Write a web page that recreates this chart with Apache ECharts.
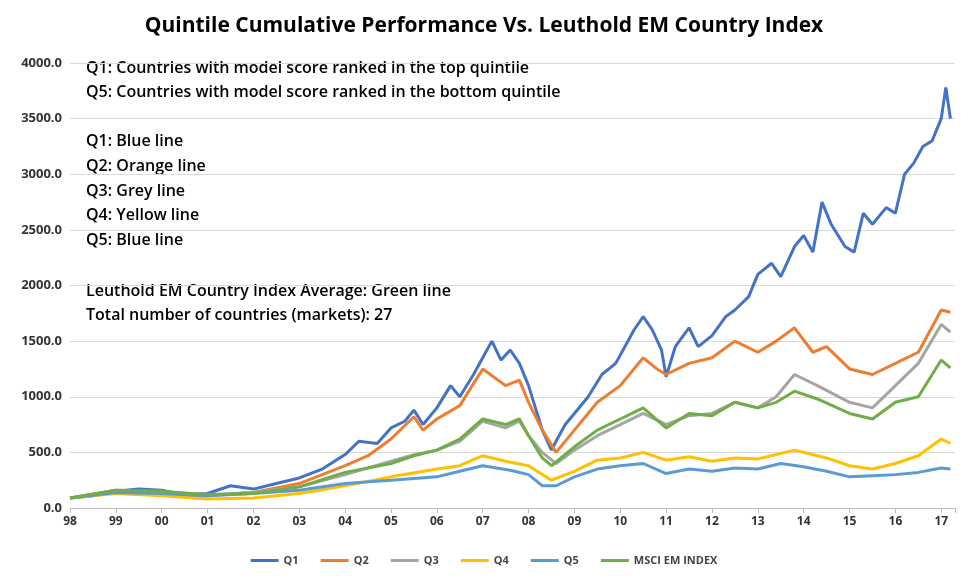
<!DOCTYPE html>
<html><head><meta charset="utf-8">
<script src="https://cdn.jsdelivr.net/npm/echarts@6/dist/echarts.min.js"></script>
<style>html,body{margin:0;padding:0;background:#fff}#c{width:968px;height:583px}</style>
</head><body><div id="c"></div>
<script>
const yearTicks = ['98','99','00','01','02','03','04','05','06','07','08','09','10','11','12','13','14','15','16','17'];
const q1 = [[1998,90],[1998.5,110],[1999,150],[1999.5,170],[2000,160],[2000.5,120],[2001,130],[2001.5,200],[2002,170],[2002.5,220],[2003,270],[2003.5,350],[2004,480],[2004.3,600],[2004.7,580],[2005,720],[2005.3,780],[2005.5,880],[2005.7,750],[2006,900],[2006.3,1100],[2006.5,1000],[2006.8,1200],[2007,1350],[2007.2,1500],[2007.4,1330],[2007.6,1420],[2007.8,1300],[2008,1100],[2008.3,700],[2008.5,520],[2008.6,600],[2008.8,750],[2009,850],[2009.3,1000],[2009.6,1200],[2009.9,1300],[2010.1,1450],[2010.3,1600],[2010.5,1720],[2010.7,1600],[2010.9,1420],[2011,1180],[2011.2,1450],[2011.5,1620],[2011.7,1450],[2012,1550],[2012.3,1720],[2012.5,1780],[2012.8,1900],[2013,2100],[2013.3,2200],[2013.5,2080],[2013.8,2350],[2014,2450],[2014.2,2300],[2014.4,2750],[2014.6,2550],[2014.9,2350],[2015.1,2300],[2015.3,2650],[2015.5,2550],[2015.8,2700],[2016,2650],[2016.2,3000],[2016.4,3100],[2016.6,3250],[2016.8,3300],[2017,3500],[2017.1,3780],[2017.2,3500]];
const q2 = [[1998,90],[1999,160],[2000,150],[2000.5,110],[2001,110],[2002,140],[2003,220],[2004,380],[2004.5,470],[2005,620],[2005.5,820],[2005.7,700],[2006,800],[2006.5,920],[2007,1250],[2007.5,1100],[2007.8,1150],[2008,950],[2008.3,700],[2008.6,500],[2009,700],[2009.5,950],[2010,1100],[2010.5,1350],[2010.8,1250],[2011,1200],[2011.5,1300],[2012,1350],[2012.5,1500],[2013,1400],[2013.4,1500],[2013.8,1620],[2014.2,1400],[2014.5,1450],[2015,1250],[2015.5,1200],[2016,1300],[2016.5,1400],[2017,1780],[2017.2,1760]];
const q3 = [[1998,90],[1999,150],[2000,140],[2001,120],[2002,140],[2003,190],[2004,300],[2005,420],[2005.5,480],[2006,520],[2006.5,600],[2007,780],[2007.5,720],[2007.8,780],[2008,650],[2008.3,500],[2008.6,400],[2009,520],[2009.5,650],[2010,750],[2010.5,850],[2011,750],[2011.5,830],[2012,850],[2012.5,950],[2013,900],[2013.4,1000],[2013.8,1200],[2014.3,1100],[2015,950],[2015.5,900],[2016,1100],[2016.5,1300],[2017,1650],[2017.2,1580]];
const q4 = [[1998,90],[1999,130],[2000,110],[2001,80],[2002,90],[2003,130],[2004,200],[2005,280],[2006,350],[2006.5,380],[2007,470],[2007.5,420],[2008,380],[2008.5,250],[2009,330],[2009.5,430],[2010,450],[2010.5,500],[2011,430],[2011.5,460],[2012,420],[2012.5,450],[2013,440],[2013.8,520],[2014.5,450],[2015,380],[2015.5,350],[2016,400],[2016.5,470],[2017,620],[2017.2,580]];
const q5 = [[1998,90],[1999,140],[2000,130],[2001,110],[2002,130],[2003,160],[2004,220],[2005,250],[2006,280],[2006.5,330],[2007,380],[2007.6,340],[2008,300],[2008.3,200],[2008.6,200],[2009,280],[2009.5,350],[2010,380],[2010.5,400],[2011,310],[2011.5,350],[2012,330],[2012.5,360],[2013,350],[2013.5,400],[2014,370],[2014.5,330],[2015,280],[2015.5,290],[2016,300],[2016.5,320],[2017,360],[2017.2,350]];
const msci = [[1998,90],[1999,160],[2000,150],[2001,120],[2002,130],[2003,190],[2004,320],[2005,400],[2005.5,470],[2006,520],[2006.5,620],[2007,800],[2007.5,750],[2007.8,800],[2008,650],[2008.3,450],[2008.5,380],[2009,550],[2009.5,700],[2010,800],[2010.5,900],[2011,720],[2011.5,850],[2012,830],[2012.5,950],[2013,900],[2013.4,950],[2013.8,1050],[2014.3,980],[2015,850],[2015.5,800],[2016,950],[2016.5,1000],[2017,1330],[2017.2,1260]];
const notes = ['Q1: Countries with model score ranked in the top quintile','Q5: Countries with model score ranked in the bottom quintile','','Q1: Blue line','Q2: Orange line','Q3: Grey line','Q4: Yellow line','Q5: Blue line'];
const notes2 = ['Leuthold EM Country Index Average: Green line','Total number of countries (markets): 27'];

const mk=(name,data,color)=>({name,type:'line',data,showSymbol:false,smooth:false,lineStyle:{width:3,color},itemStyle:{color}});
const chart=echarts.init(document.getElementById('c'));
const gfx=[];
notes.forEach((t,i)=>{if(t)gfx.push({type:'text',left:86,top:60+i*24.6,style:{text:t,font:'600 16px "Open Sans"',fill:'#000'}});});
notes2.forEach((t,i)=>gfx.push({type:'text',left:86,top:283+i*24,style:{text:t,font:'600 16px "Open Sans"',fill:'#000'}}));
chart.setOption({
  animation:false,
  title:{text:'Quintile Cumulative Performance Vs. Leuthold EM Country Index',left:'center',top:11,textStyle:{fontFamily:'Open Sans',fontWeight:'bold',fontSize:21,color:'#000'}},
  grid:{left:70,right:13,top:63,bottom:75},
  legend:{bottom:12,itemWidth:28,itemHeight:3,itemGap:22,icon:'rect',textStyle:{fontFamily:'Open Sans',fontWeight:'bold',fontSize:11,color:'#444'}},
  xAxis:{type:'value',min:1998,max:2017.3,interval:1,axisLine:{lineStyle:{color:'#bbb'}},axisTick:{show:true,lineStyle:{color:'#bbb'}},splitLine:{show:false},
    axisLabel:{fontFamily:'Open Sans',fontWeight:'bold',fontSize:12,color:'#333',formatter:v=>{const i=Math.round(v-1998);return (Math.abs(v-1998-i)<1e-6&&yearTicks[i])?yearTicks[i]:'';}}},
  yAxis:{type:'value',min:0,max:4000,interval:500,axisLine:{show:false},axisTick:{show:false},splitLine:{lineStyle:{color:'#d9d9d9'}},
    axisLabel:{fontFamily:'Open Sans',fontWeight:'bold',fontSize:13,color:'#333',formatter:v=>v.toFixed(1)}},
  graphic:gfx,
  series:[mk('Q1',q1,'#4472C4'),mk('Q2',q2,'#ED7D31'),mk('Q3',q3,'#A5A5A5'),mk('Q4',q4,'#FFC000'),mk('Q5',q5,'#5B9BD5'),mk('MSCI EM INDEX',msci,'#70AD47')]
});
</script></body></html>
